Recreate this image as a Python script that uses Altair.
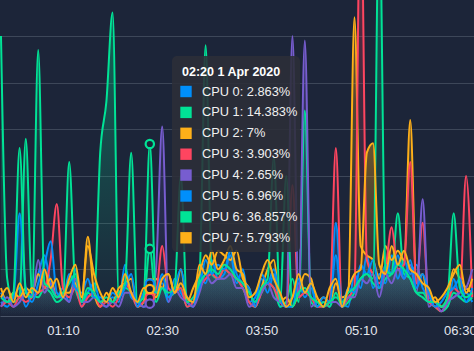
import altair as alt
import pandas as pd

# ---------------- data ----------------
minutes = list(range(20, 405, 5))  # sample times 00:20 .. 06:40 (minutes after midnight)
names = ["CPU 0", "CPU 1", "CPU 2", "CPU 3", "CPU 4", "CPU 5", "CPU 6", "CPU 7"]
colors = ["#008FFB", "#00E396", "#FEB019", "#FF4560", "#775DD0", "#008FFB", "#00E396", "#FEB019"]

cpu0 = [3, 2, 4, 6, 2, 5, 9, 13, 7, 4,
        6, 3, 10, 2, 5, 7, 3, 2, 4, 3,
        11, 4, 3, 2, 2.863, 6, 7, 3, 8, 5,
        3, 2, 9, 7, 12, 8, 9, 13, 7, 10,
        3, 4, 8, 5, 9, 2, 3, 4, 7, 4,
        6, 2, 3, 2, 20, 3, 2, 9, 6, 13,
        6, 9, 7, 13, 8, 12, 9, 11, 6, 4,
        3, 2, 2, 8, 4, 5, 3]
cpu1 = [60, 8, 3, 4, 38, 5, 4, 6, 5, 3,
        4, 33, 6, 3, 5, 4, 35, 46, 65, 4,
        6, 5, 2, 3, 14.383, 3, 6, 4, 5, 6,
        2, 3, 8, 58, 9, 8, 10, 9, 8, 6,
        3, 2, 5, 7, 6, 2, 3, 8, 3, 44,
        3, 2, 3, 2, 5, 2, 3, 5, 8, 9,
        7, 6, 8, 9, 22, 9, 8, 5, 5, 3,
        2, 1, 2, 5, 4, 3, 4]
cpu2 = [6, 3, 5, 4, 6, 5, 9, 6, 8, 4,
        5, 5, 7, 3, 17, 5, 2, 5, 3, 6,
        7, 8, 2, 3, 7, 8, 6, 9, 5, 10,
        3, 6, 9, 13, 11, 14, 13, 12, 14, 8,
        6, 2, 6, 10, 12, 3, 4, 2, 5, 9,
        8, 3, 4, 3, 7, 4, 5, 64, 15, 13,
        12, 8, 15, 12, 14, 12, 42, 7, 9, 3,
        4, 2, 4, 10, 8, 6, 5]
cpu3 = [2, 3, 2, 4, 3, 4, 5, 6, 12, 24,
        6, 4, 6, 2, 4, 5, 2, 3, 2, 4,
        7, 5, 2, 3, 3.903, 5, 15, 6, 5, 6,
        2, 3, 6, 8, 9, 8, 10, 9, 8, 6,
        3, 2, 5, 7, 6, 3, 2, 28, 4, 5,
        4, 2, 2, 3, 36, 2, 4, 6, 95, 12,
        9, 7, 10, 19, 10, 11, 33, 7, 20, 3,
        2, 1, 3, 6, 5, 30, 4]
cpu4 = [2, 4, 2, 3, 5, 4, 12, 5, 7, 4,
        4, 3, 8, 3, 3, 4, 3, 2, 3, 2,
        5, 5, 3, 2, 2.65, 10, 40.6, 3, 6, 4,
        3, 2, 5, 9, 7, 8, 8, 9, 6, 6,
        2, 3, 5, 7, 4, 3, 2, 60, 4, 59,
        2, 3, 2, 3, 3, 2, 4, 4, 8, 7,
        9, 4, 9, 7, 10, 8, 11, 5, 25, 2,
        3, 1, 3, 4, 5, 6, 10]
cpu5 = [5, 3, 4, 22, 6, 3, 7, 11, 16, 5,
        4, 9, 6, 5, 8, 4, 4, 3, 5, 4,
        6, 9, 2, 5, 6.96, 5, 9, 4, 6, 10,
        4, 3, 6, 12, 9, 11, 10, 14, 9, 7,
        6, 2, 9, 7, 10, 4, 2, 2, 8, 5,
        7, 2, 4, 3, 13, 2, 6, 5, 11, 9,
        12, 6, 11, 9, 13, 8, 12, 6, 9, 5,
        2, 3, 5, 6, 8, 3, 6]
cpu6 = [4, 3, 5, 36, 5, 4, 57, 7, 6, 4,
        5, 7, 9, 3, 6, 5, 3, 4, 3, 5,
        7, 35, 3, 4, 36.857, 5, 6, 5, 6, 30,
        3, 4, 7, 9, 10, 9, 11, 10, 8, 7,
        5, 3, 6, 8, 34, 3, 30, 2, 5, 6,
        4, 3, 2, 3, 4, 3, 5, 6, 8, 9,
        8, 90, 10, 9, 11, 10, 8, 5, 4, 3,
        3, 2, 4, 22, 6, 4, 5]
cpu7 = [4, 6, 3, 7, 4, 6, 5, 10, 6, 8,
        4, 8, 11, 4, 15, 9, 5, 3, 6, 4,
        9, 5, 3, 6, 5.793, 4, 8, 9, 5, 7,
        4, 3, 11, 9, 14, 10, 12, 15, 10, 9,
        4, 5, 9, 12, 8, 5, 2, 4, 9, 5,
        7, 4, 2, 6, 8, 2, 6, 9, 10, 35,
        37, 11, 9, 15, 11, 14, 10, 9, 7, 6,
        3, 4, 6, 9, 11, 5, 8]
series = [cpu0, cpu1, cpu2, cpu3, cpu4, cpu5, cpu6, cpu7]

hover_index = 24
hover_title = "02:20 1 Apr 2020"
x_ticks = [70, 150, 230, 310, 390]
grid_vals = [10, 20, 30, 40, 50, 60]

# ---------------- styling ----------------
BG = "#1c2539"
FONT = "Liberation Sans"
W, H = 474, 316

rows = []
for name, vals in zip(names, series):
    for m, v in zip(minutes, vals):
        rows.append({"series": name, "minute": m, "value": v})
df = pd.DataFrame(rows)

hover = pd.DataFrame({
    "series": names,
    "minute": [minutes[hover_index]] * len(names),
    "value": [s[hover_index] for s in series],
    "row": list(range(len(names))),
    "label": ["%s: %s%%" % (n, "%g" % s[hover_index]) for n, s in zip(names, series)],
})

color_scale = alt.Scale(domain=names, range=colors)
x_enc = alt.X(
    "minute:Q",
    scale=alt.Scale(domain=[19.2, 401.4], nice=False, zero=False),
    axis=alt.Axis(
        values=x_ticks,
        labelExpr="timeFormat(datetime(2020, 3, 1, 0, datum.value), '%H:%M')",
        grid=False, ticks=False, domain=True, domainColor="#4a5467",
        labelColor="#e4e7ee", labelFontSize=13, labelFont=FONT,
        labelPadding=8, title=None,
    ),
)
y_enc = alt.Y(
    "value:Q",
    scale=alt.Scale(domain=[0, 67.7], nice=False, zero=True),
    axis=alt.Axis(values=grid_vals, grid=True, gridColor="#3d4759",
                  labels=False, ticks=False, domain=False, title=None),
)


def rgba(hexc, a):
    h = hexc.lstrip("#")
    r, g, b = int(h[0:2], 16), int(h[2:4], 16), int(h[4:6], 16)
    return "rgba(%d,%d,%d,%.3f)" % (r, g, b, a)


base = alt.Chart(df)
areas = []
for name, c in zip(names, colors):
    areas.append(
        base.transform_filter(alt.datum.series == name)
        .mark_area(
            interpolate="monotone", clip=True,
            color=alt.Gradient(
                gradient="linear",
                stops=[alt.GradientStop(color=rgba(c, 0.34), offset=0),
                       alt.GradientStop(color=rgba(c, 0.0), offset=1)],
                x1=1, x2=1, y1=0, y2=1,
            ),
        )
        .encode(x=x_enc, y=y_enc)
    )

lines = base.mark_line(interpolate="monotone", strokeWidth=2, clip=True).encode(
    x=x_enc, y=y_enc,
    color=alt.Color("series:N", scale=color_scale, legend=None),
    detail="series:N",
)

markers = alt.Chart(hover).mark_circle(
    size=70, fill=BG, fillOpacity=1, strokeWidth=2.2, opacity=1
).encode(
    x=x_enc, y=y_enc,
    stroke=alt.Stroke("series:N", scale=color_scale, legend=None),
)

main = alt.layer(*areas, lines, markers)

# ---------------- tooltip box ----------------
box = alt.Chart(pd.DataFrame({"a": [0]})).mark_rect(
    fill="#2c2f38", opacity=0.88, cornerRadius=5
).encode(x=alt.value(172), x2=alt.value(300), y=alt.value(56), y2=alt.value(252))

title = alt.Chart(pd.DataFrame({"t": [hover_title]})).mark_text(
    align="left", baseline="middle", fontWeight="bold", fontSize=12.5,
    font=FONT, color="#ffffff"
).encode(x=alt.value(182), y=alt.value(71.5), text="t:N")

row_y = alt.Y("row:Q", scale=alt.Scale(domain=[0, 7], range=[91.5, 237.8]), axis=None)
squares = alt.Chart(hover).mark_square(size=130, opacity=1, filled=True).encode(
    x=alt.value(186), y=row_y,
    color=alt.Color("series:N", scale=color_scale, legend=None),
)
labels = alt.Chart(hover).mark_text(
    align="left", baseline="middle", fontSize=12.8, font=FONT, color="#f0f0f0"
).encode(x=alt.value(202), y=row_y, text="label:N")

tip = alt.layer(box, title, squares, labels)

chart = (
    alt.layer(main, tip)
    .resolve_scale(y="independent")
    .properties(width=W, height=H, background=BG,
                padding={"left": 0, "top": 0, "right": 0, "bottom": 35},
                autosize=alt.AutoSizeParams(type="none"))
    .configure_view(stroke=None)
)

chart.save("out.html", embed_options={"renderer": "svg", "actions": False})
